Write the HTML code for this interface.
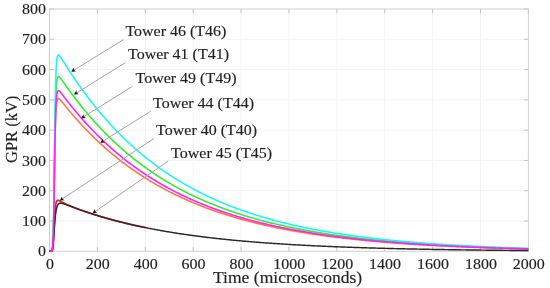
<!DOCTYPE html>
<html><head><meta charset="utf-8"><style>
html,body{margin:0;padding:0;background:#fff;}
svg{display:block;filter:blur(0.3px);}
text{font-family:"Liberation Serif","Times New Roman",serif;fill:#222;stroke:#222;stroke-width:0.15px;}
</style></head><body>
<svg width="550" height="288" viewBox="0 0 550 288">
<rect width="550" height="288" fill="#fff"/>
<g stroke="#f3f3f3" stroke-width="1" fill="none"><line x1="97.39" y1="9.0" x2="97.39" y2="251.3"/><line x1="145.28" y1="9.0" x2="145.28" y2="251.3"/><line x1="193.17" y1="9.0" x2="193.17" y2="251.3"/><line x1="241.06" y1="9.0" x2="241.06" y2="251.3"/><line x1="288.95" y1="9.0" x2="288.95" y2="251.3"/><line x1="336.84" y1="9.0" x2="336.84" y2="251.3"/><line x1="384.73" y1="9.0" x2="384.73" y2="251.3"/><line x1="432.62" y1="9.0" x2="432.62" y2="251.3"/><line x1="480.51" y1="9.0" x2="480.51" y2="251.3"/><line x1="49.5" y1="221.01" x2="528.4" y2="221.01"/><line x1="49.5" y1="190.73" x2="528.4" y2="190.73"/><line x1="49.5" y1="160.44" x2="528.4" y2="160.44"/><line x1="49.5" y1="130.15" x2="528.4" y2="130.15"/><line x1="49.5" y1="99.86" x2="528.4" y2="99.86"/><line x1="49.5" y1="69.58" x2="528.4" y2="69.58"/><line x1="49.5" y1="39.29" x2="528.4" y2="39.29"/></g>
<g stroke="#c4c4c4" stroke-width="1" fill="none"><line x1="49.50" y1="251.3" x2="49.50" y2="246.8"/><line x1="49.50" y1="9.0" x2="49.50" y2="13.5"/><line x1="97.39" y1="251.3" x2="97.39" y2="246.8"/><line x1="97.39" y1="9.0" x2="97.39" y2="13.5"/><line x1="145.28" y1="251.3" x2="145.28" y2="246.8"/><line x1="145.28" y1="9.0" x2="145.28" y2="13.5"/><line x1="193.17" y1="251.3" x2="193.17" y2="246.8"/><line x1="193.17" y1="9.0" x2="193.17" y2="13.5"/><line x1="241.06" y1="251.3" x2="241.06" y2="246.8"/><line x1="241.06" y1="9.0" x2="241.06" y2="13.5"/><line x1="288.95" y1="251.3" x2="288.95" y2="246.8"/><line x1="288.95" y1="9.0" x2="288.95" y2="13.5"/><line x1="336.84" y1="251.3" x2="336.84" y2="246.8"/><line x1="336.84" y1="9.0" x2="336.84" y2="13.5"/><line x1="384.73" y1="251.3" x2="384.73" y2="246.8"/><line x1="384.73" y1="9.0" x2="384.73" y2="13.5"/><line x1="432.62" y1="251.3" x2="432.62" y2="246.8"/><line x1="432.62" y1="9.0" x2="432.62" y2="13.5"/><line x1="480.51" y1="251.3" x2="480.51" y2="246.8"/><line x1="480.51" y1="9.0" x2="480.51" y2="13.5"/><line x1="528.40" y1="251.3" x2="528.40" y2="246.8"/><line x1="528.40" y1="9.0" x2="528.40" y2="13.5"/><line x1="49.5" y1="251.30" x2="54.0" y2="251.30"/><line x1="528.4" y1="251.30" x2="523.9" y2="251.30"/><line x1="49.5" y1="221.01" x2="54.0" y2="221.01"/><line x1="528.4" y1="221.01" x2="523.9" y2="221.01"/><line x1="49.5" y1="190.73" x2="54.0" y2="190.73"/><line x1="528.4" y1="190.73" x2="523.9" y2="190.73"/><line x1="49.5" y1="160.44" x2="54.0" y2="160.44"/><line x1="528.4" y1="160.44" x2="523.9" y2="160.44"/><line x1="49.5" y1="130.15" x2="54.0" y2="130.15"/><line x1="528.4" y1="130.15" x2="523.9" y2="130.15"/><line x1="49.5" y1="99.86" x2="54.0" y2="99.86"/><line x1="528.4" y1="99.86" x2="523.9" y2="99.86"/><line x1="49.5" y1="69.58" x2="54.0" y2="69.58"/><line x1="528.4" y1="69.58" x2="523.9" y2="69.58"/><line x1="49.5" y1="39.29" x2="54.0" y2="39.29"/><line x1="528.4" y1="39.29" x2="523.9" y2="39.29"/><line x1="49.5" y1="9.00" x2="54.0" y2="9.00"/><line x1="528.4" y1="9.00" x2="523.9" y2="9.00"/></g>
<rect x="49.5" y="9.0" width="478.90" height="242.30" fill="none" stroke="#d0d0d0" stroke-width="1"/>
<g fill="none" stroke-width="1.6" stroke-linejoin="round"><polyline points="49.50,251.30 49.62,251.30 49.74,251.30 49.86,251.30 49.98,251.30 50.10,251.30 50.22,251.30 50.34,251.30 50.46,251.30 50.58,251.30 50.70,251.30 50.82,251.30 50.94,251.29 51.06,251.29 51.18,251.27 51.30,251.26 51.42,251.23 51.54,251.18 51.66,251.11 51.77,251.01 51.89,250.87 52.01,250.67 52.13,250.38 52.25,249.99 52.37,249.47 52.49,248.78 52.61,247.88 52.73,246.71 52.85,245.22 52.97,243.35 53.09,241.05 53.21,238.23 53.33,234.86 53.45,230.87 53.57,226.25 53.69,220.97 53.81,215.07 53.93,208.60 54.05,201.64 54.17,194.32 54.29,186.75 54.41,179.10 54.53,171.51 54.65,164.11 54.77,157.02 54.89,150.34 55.01,144.13 55.13,138.43 55.25,133.25 55.37,128.60 55.49,124.46 55.61,120.79 55.73,117.56 55.85,114.74 55.97,112.28 56.08,110.15 56.20,108.30 56.32,106.71 56.44,105.34 56.56,104.17 56.68,103.17 56.80,102.32 56.92,101.59 57.04,100.98 57.16,100.46 57.28,100.03 57.40,99.67 57.52,99.37 57.64,99.13 57.76,98.94 57.88,98.79 58.00,98.68 58.12,98.59 58.24,98.54 58.36,98.51 58.48,98.50 58.60,98.51 58.72,98.53 58.84,98.57 58.96,98.63 59.08,98.69 59.20,98.77 59.32,98.85 59.44,98.94 59.56,99.03 59.68,99.14 59.80,99.24 59.92,99.36 60.04,99.47 60.16,99.59 60.28,99.72 60.39,99.84 60.51,99.97 60.63,100.10 60.75,100.24 60.87,100.37 60.99,100.51 61.11,100.65 61.23,100.79 61.35,100.93 61.47,101.07 61.59,101.22 61.71,101.36 61.83,101.50 61.95,101.65 62.07,101.79 62.19,101.94 62.31,102.09 62.43,102.23 62.55,102.38 62.67,102.53 62.79,102.68 62.91,102.82 63.03,102.97 63.15,103.12 63.27,103.27 63.39,103.42 63.51,103.57 63.63,103.72 63.75,103.86 63.87,104.01 63.99,104.16 64.11,104.31 64.23,104.46 64.35,104.61 64.47,104.76 64.59,104.91 64.71,105.05 64.82,105.20 64.94,105.35 65.06,105.50 65.18,105.65 65.30,105.80 65.42,105.94 65.54,106.09 65.66,106.24 65.78,106.39 65.90,106.54 66.02,106.68 66.14,106.83 66.26,106.98 66.38,107.13 66.50,107.27 66.62,107.42 66.74,107.57 66.86,107.72 66.98,107.86 67.10,108.01 67.22,108.16 67.34,108.30 67.46,108.45 67.58,108.59 67.70,108.74 67.82,108.89 67.94,109.03 68.06,109.18 68.18,109.32 68.30,109.47 68.42,109.61 68.54,109.76 68.66,109.90 68.78,110.05 68.90,110.19 69.02,110.34 69.13,110.48 69.25,110.63 69.37,110.77 69.49,110.91 69.61,111.06 69.73,111.20 69.85,111.35 69.97,111.49 70.09,111.63 70.21,111.78 70.33,111.92 70.45,112.06 70.57,112.20 70.69,112.35 70.81,112.49 70.93,112.63 71.05,112.77 71.17,112.91 71.29,113.06 71.41,113.20 71.53,113.34 71.65,113.48 71.77,113.62 71.89,113.76 72.01,113.90 72.13,114.05 72.25,114.19 72.37,114.33 72.49,114.47 72.61,114.61 72.73,114.75 72.85,114.89 72.97,115.03 73.09,115.17 73.21,115.31 73.33,115.45 73.44,115.59 74.40,116.69 75.36,117.79 76.32,118.88 77.28,119.97 78.23,121.04 79.19,122.10 80.15,123.16 81.11,124.21 82.07,125.25 83.02,126.28 83.98,127.30 84.94,128.31 85.90,129.32 86.85,130.31 87.81,131.30 88.77,132.28 89.73,133.26 90.69,134.22 91.64,135.18 92.60,136.13 93.56,137.07 94.52,138.00 95.47,138.93 96.43,139.85 97.39,140.76 98.35,141.66 99.31,142.56 100.26,143.45 101.22,144.33 102.18,145.21 103.14,146.07 104.09,146.93 105.05,147.79 106.01,148.63 106.97,149.47 107.93,150.31 108.88,151.13 109.84,151.95 110.80,152.76 111.76,153.57 112.71,154.37 113.67,155.16 114.63,155.95 115.59,156.73 116.55,157.50 117.50,158.27 118.46,159.03 119.42,159.78 120.38,160.53 121.33,161.28 122.29,162.01 123.25,162.74 124.21,163.47 125.17,164.19 126.12,164.90 127.08,165.61 128.04,166.31 129.00,167.00 129.96,167.69 130.91,168.38 131.87,169.06 132.83,169.73 133.79,170.40 134.74,171.06 135.70,171.71 136.66,172.37 137.62,173.01 138.58,173.65 139.53,174.29 140.49,174.92 141.45,175.54 142.41,176.16 143.36,176.78 144.32,177.39 145.28,178.00 146.24,178.60 147.20,179.19 148.15,179.78 149.11,180.37 150.07,180.95 151.03,181.52 151.98,182.10 152.94,182.66 153.90,183.22 154.86,183.78 155.82,184.33 156.77,184.88 157.73,185.43 158.69,185.97 159.65,186.50 160.60,187.03 161.56,187.56 162.52,188.08 163.48,188.60 164.44,189.11 165.39,189.62 166.35,190.13 167.31,190.63 168.27,191.13 169.22,191.62 170.18,192.11 171.14,192.60 172.10,193.08 173.06,193.55 174.01,194.03 174.97,194.50 175.93,194.96 176.89,195.42 177.85,195.88 178.80,196.34 179.76,196.79 180.72,197.24 181.68,197.68 182.63,198.12 183.59,198.55 184.55,198.99 185.51,199.42 186.47,199.84 187.42,200.26 188.38,200.68 189.34,201.10 190.30,201.51 191.25,201.92 192.21,202.32 193.17,202.73 194.13,203.13 195.09,203.52 196.04,203.91 197.00,204.30 197.96,204.69 198.92,205.07 199.87,205.45 200.83,205.83 201.79,206.20 202.75,206.57 203.71,206.94 204.66,207.30 205.62,207.66 206.58,208.02 207.54,208.38 208.49,208.73 209.45,209.08 210.41,209.43 211.37,209.77 212.33,210.11 213.28,210.45 214.24,210.79 215.20,211.12 216.16,211.45 217.12,211.78 218.07,212.10 219.03,212.43 219.99,212.75 220.95,213.06 221.90,213.38 222.86,213.69 223.82,214.00 224.78,214.31 225.74,214.61 226.69,214.91 227.65,215.21 228.61,215.51 229.57,215.80 230.52,216.10 231.48,216.39 232.44,216.67 233.40,216.96 234.36,217.24 235.31,217.52 236.27,217.80 237.23,218.08 238.19,218.35 239.14,218.62 240.10,218.89 241.06,219.16 242.02,219.42 242.98,219.69 243.93,219.95 244.89,220.21 245.85,220.46 246.81,220.72 247.76,220.97 248.72,221.22 249.68,221.47 250.64,221.71 251.60,221.96 252.55,222.20 253.51,222.44 254.47,222.68 255.43,222.92 256.38,223.15 257.34,223.38 258.30,223.61 259.26,223.84 260.22,224.07 261.17,224.29 262.13,224.52 263.09,224.74 264.05,224.96 265.00,225.18 265.96,225.39 266.92,225.61 267.88,225.82 268.84,226.03 269.79,226.24 270.75,226.45 271.71,226.65 272.67,226.86 273.63,227.06 274.58,227.26 275.54,227.46 276.50,227.66 277.46,227.85 278.41,228.05 279.37,228.24 280.33,228.43 281.29,228.62 282.25,228.81 283.20,229.00 284.16,229.18 285.12,229.36 286.08,229.55 287.03,229.73 287.99,229.91 288.95,230.08 289.91,230.26 290.87,230.43 291.82,230.61 292.78,230.78 293.74,230.95 294.70,231.12 295.65,231.29 296.61,231.45 297.57,231.62 298.53,231.78 299.49,231.95 300.44,232.11 301.40,232.27 302.36,232.42 303.32,232.58 304.27,232.74 305.23,232.89 306.19,233.05 307.15,233.20 308.11,233.35 309.06,233.50 310.02,233.65 310.98,233.79 311.94,233.94 312.89,234.09 313.85,234.23 314.81,234.37 315.77,234.51 316.73,234.65 317.68,234.79 318.64,234.93 319.60,235.07 320.56,235.20 321.52,235.34 322.47,235.47 323.43,235.60 324.39,235.74 325.35,235.87 326.30,236.00 327.26,236.12 328.22,236.25 329.18,236.38 330.14,236.50 331.09,236.63 332.05,236.75 333.01,236.87 333.97,236.99 334.92,237.11 335.88,237.23 336.84,237.35 337.80,237.47 338.76,237.59 339.71,237.70 340.67,237.82 341.63,237.93 342.59,238.04 343.54,238.15 344.50,238.26 345.46,238.37 346.42,238.48 347.38,238.59 348.33,238.70 349.29,238.80 350.25,238.91 351.21,239.01 352.16,239.12 353.12,239.22 354.08,239.32 355.04,239.43 356.00,239.53 356.95,239.63 357.91,239.72 358.87,239.82 359.83,239.92 360.79,240.02 361.74,240.11 362.70,240.21 363.66,240.30 364.62,240.39 365.57,240.49 366.53,240.58 367.49,240.67 368.45,240.76 369.41,240.85 370.36,240.94 371.32,241.03 372.28,241.12 373.24,241.20 374.19,241.29 375.15,241.37 376.11,241.46 377.07,241.54 378.03,241.63 378.98,241.71 379.94,241.79 380.90,241.87 381.86,241.95 382.81,242.03 383.77,242.11 384.73,242.19 385.69,242.27 386.65,242.35 387.60,242.43 388.56,242.50 389.52,242.58 390.48,242.65 391.43,242.73 392.39,242.80 393.35,242.87 394.31,242.95 395.27,243.02 396.22,243.09 397.18,243.16 398.14,243.23 399.10,243.30 400.05,243.37 401.01,243.44 401.97,243.51 402.93,243.58 403.89,243.64 404.84,243.71 405.80,243.77 406.76,243.84 407.72,243.91 408.68,243.97 409.63,244.03 410.59,244.10 411.55,244.16 412.51,244.22 413.46,244.28 414.42,244.35 415.38,244.41 416.34,244.47 417.30,244.53 418.25,244.59 419.21,244.65 420.17,244.70 421.13,244.76 422.08,244.82 423.04,244.88 424.00,244.93 424.96,244.99 425.92,245.04 426.87,245.10 427.83,245.15 428.79,245.21 429.75,245.26 430.70,245.32 431.66,245.37 432.62,245.42 433.58,245.47 434.54,245.53 435.49,245.58 436.45,245.63 437.41,245.68 438.37,245.73 439.32,245.78 440.28,245.83 441.24,245.88 442.20,245.93 443.16,245.97 444.11,246.02 445.07,246.07 446.03,246.12 446.99,246.16 447.94,246.21 448.90,246.26 449.86,246.30 450.82,246.35 451.78,246.39 452.73,246.44 453.69,246.48 454.65,246.52 455.61,246.57 456.56,246.61 457.52,246.65 458.48,246.70 459.44,246.74 460.40,246.78 461.35,246.82 462.31,246.86 463.27,246.90 464.23,246.94 465.19,246.98 466.14,247.02 467.10,247.06 468.06,247.10 469.02,247.14 469.97,247.18 470.93,247.22 471.89,247.26 472.85,247.29 473.81,247.33 474.76,247.37 475.72,247.40 476.68,247.44 477.64,247.48 478.59,247.51 479.55,247.55 480.51,247.58 481.47,247.62 482.43,247.65 483.38,247.69 484.34,247.72 485.30,247.76 486.26,247.79 487.21,247.82 488.17,247.86 489.13,247.89 490.09,247.92 491.05,247.95 492.00,247.99 492.96,248.02 493.92,248.05 494.88,248.08 495.83,248.11 496.79,248.14 497.75,248.17 498.71,248.20 499.67,248.23 500.62,248.26 501.58,248.29 502.54,248.32 503.50,248.35 504.45,248.38 505.41,248.41 506.37,248.44 507.33,248.47 508.29,248.49 509.24,248.52 510.20,248.55 511.16,248.58 512.12,248.60 513.08,248.63 514.03,248.66 514.99,248.68 515.95,248.71 516.91,248.74 517.86,248.76 518.82,248.79 519.78,248.81 520.74,248.84 521.70,248.86 522.65,248.89 523.61,248.91 524.57,248.94 525.53,248.96 526.48,248.99 527.44,249.01 528.40,249.03" stroke="#ff7744"/><polyline points="49.50,251.30 49.62,251.30 49.74,251.30 49.86,251.30 49.98,251.30 50.10,251.30 50.22,251.30 50.34,251.30 50.46,251.30 50.58,251.30 50.70,251.30 50.82,251.30 50.94,251.29 51.06,251.28 51.18,251.27 51.30,251.25 51.42,251.22 51.54,251.17 51.66,251.09 51.77,250.97 51.89,250.81 52.01,250.57 52.13,250.25 52.25,249.81 52.37,249.21 52.49,248.42 52.61,247.38 52.73,246.05 52.85,244.35 52.97,242.21 53.09,239.57 53.21,236.36 53.33,232.50 53.45,227.94 53.57,222.64 53.69,216.61 53.81,209.87 53.93,202.46 54.05,194.51 54.17,186.13 54.29,177.48 54.41,168.72 54.53,160.04 54.65,151.58 54.77,143.47 54.89,135.83 55.01,128.73 55.13,122.21 55.25,116.29 55.37,110.97 55.49,106.23 55.61,102.03 55.73,98.34 55.85,95.11 55.97,92.30 56.08,89.86 56.20,87.75 56.32,85.93 56.44,84.37 56.56,83.03 56.68,81.88 56.80,80.91 56.92,80.08 57.04,79.37 57.16,78.78 57.28,78.29 57.40,77.88 57.52,77.54 57.64,77.27 57.76,77.05 57.88,76.87 58.00,76.74 58.12,76.65 58.24,76.59 58.36,76.55 58.48,76.54 58.60,76.55 58.72,76.58 58.84,76.63 58.96,76.69 59.08,76.76 59.20,76.84 59.32,76.94 59.44,77.04 59.56,77.15 59.68,77.27 59.80,77.39 59.92,77.52 60.04,77.66 60.16,77.79 60.28,77.93 60.39,78.08 60.51,78.23 60.63,78.38 60.75,78.53 60.87,78.68 60.99,78.84 61.11,79.00 61.23,79.16 61.35,79.32 61.47,79.48 61.59,79.65 61.71,79.81 61.83,79.98 61.95,80.14 62.07,80.31 62.19,80.48 62.31,80.64 62.43,80.81 62.55,80.98 62.67,81.15 62.79,81.32 62.91,81.49 63.03,81.66 63.15,81.83 63.27,82.00 63.39,82.17 63.51,82.34 63.63,82.51 63.75,82.68 63.87,82.85 63.99,83.02 64.11,83.19 64.23,83.36 64.35,83.53 64.47,83.70 64.59,83.87 64.71,84.04 64.82,84.21 64.94,84.38 65.06,84.55 65.18,84.72 65.30,84.89 65.42,85.06 65.54,85.23 65.66,85.40 65.78,85.56 65.90,85.73 66.02,85.90 66.14,86.07 66.26,86.24 66.38,86.41 66.50,86.58 66.62,86.75 66.74,86.91 66.86,87.08 66.98,87.25 67.10,87.42 67.22,87.59 67.34,87.75 67.46,87.92 67.58,88.09 67.70,88.25 67.82,88.42 67.94,88.59 68.06,88.75 68.18,88.92 68.30,89.09 68.42,89.25 68.54,89.42 68.66,89.58 68.78,89.75 68.90,89.92 69.02,90.08 69.13,90.25 69.25,90.41 69.37,90.58 69.49,90.74 69.61,90.90 69.73,91.07 69.85,91.23 69.97,91.40 70.09,91.56 70.21,91.72 70.33,91.89 70.45,92.05 70.57,92.21 70.69,92.38 70.81,92.54 70.93,92.70 71.05,92.87 71.17,93.03 71.29,93.19 71.41,93.35 71.53,93.51 71.65,93.68 71.77,93.84 71.89,94.00 72.01,94.16 72.13,94.32 72.25,94.48 72.37,94.64 72.49,94.80 72.61,94.96 72.73,95.12 72.85,95.28 72.97,95.44 73.09,95.60 73.21,95.76 73.33,95.92 73.44,96.08 74.40,97.35 75.36,98.61 76.32,99.86 77.28,101.09 78.23,102.32 79.19,103.54 80.15,104.75 81.11,105.94 82.07,107.13 83.02,108.31 83.98,109.48 84.94,110.64 85.90,111.79 86.85,112.93 87.81,114.06 88.77,115.18 89.73,116.29 90.69,117.40 91.64,118.49 92.60,119.58 93.56,120.65 94.52,121.72 95.47,122.78 96.43,123.83 97.39,124.87 98.35,125.91 99.31,126.93 100.26,127.95 101.22,128.96 102.18,129.96 103.14,130.95 104.09,131.94 105.05,132.91 106.01,133.88 106.97,134.84 107.93,135.79 108.88,136.74 109.84,137.67 110.80,138.60 111.76,139.53 112.71,140.44 113.67,141.35 114.63,142.25 115.59,143.14 116.55,144.02 117.50,144.90 118.46,145.77 119.42,146.63 120.38,147.49 121.33,148.34 122.29,149.18 123.25,150.02 124.21,150.85 125.17,151.67 126.12,152.48 127.08,153.29 128.04,154.09 129.00,154.89 129.96,155.68 130.91,156.46 131.87,157.24 132.83,158.01 133.79,158.77 134.74,159.53 135.70,160.28 136.66,161.02 137.62,161.76 138.58,162.49 139.53,163.22 140.49,163.94 141.45,164.66 142.41,165.37 143.36,166.07 144.32,166.77 145.28,167.46 146.24,168.15 147.20,168.83 148.15,169.50 149.11,170.17 150.07,170.84 151.03,171.50 151.98,172.15 152.94,172.80 153.90,173.44 154.86,174.08 155.82,174.71 156.77,175.34 157.73,175.96 158.69,176.58 159.65,177.19 160.60,177.80 161.56,178.40 162.52,179.00 163.48,179.59 164.44,180.18 165.39,180.76 166.35,181.34 167.31,181.91 168.27,182.48 169.22,183.04 170.18,183.60 171.14,184.16 172.10,184.71 173.06,185.26 174.01,185.80 174.97,186.33 175.93,186.87 176.89,187.40 177.85,187.92 178.80,188.44 179.76,188.95 180.72,189.47 181.68,189.97 182.63,190.48 183.59,190.98 184.55,191.47 185.51,191.96 186.47,192.45 187.42,192.93 188.38,193.41 189.34,193.88 190.30,194.36 191.25,194.82 192.21,195.29 193.17,195.75 194.13,196.20 195.09,196.65 196.04,197.10 197.00,197.55 197.96,197.99 198.92,198.43 199.87,198.86 200.83,199.29 201.79,199.72 202.75,200.14 203.71,200.56 204.66,200.98 205.62,201.39 206.58,201.80 207.54,202.21 208.49,202.61 209.45,203.01 210.41,203.41 211.37,203.80 212.33,204.20 213.28,204.58 214.24,204.97 215.20,205.35 216.16,205.73 217.12,206.10 218.07,206.47 219.03,206.84 219.99,207.21 220.95,207.57 221.90,207.93 222.86,208.29 223.82,208.64 224.78,208.99 225.74,209.34 226.69,209.68 227.65,210.03 228.61,210.37 229.57,210.70 230.52,211.04 231.48,211.37 232.44,211.70 233.40,212.02 234.36,212.35 235.31,212.67 236.27,212.99 237.23,213.30 238.19,213.62 239.14,213.93 240.10,214.24 241.06,214.54 242.02,214.84 242.98,215.14 243.93,215.44 244.89,215.74 245.85,216.03 246.81,216.32 247.76,216.61 248.72,216.90 249.68,217.18 250.64,217.46 251.60,217.74 252.55,218.02 253.51,218.29 254.47,218.57 255.43,218.84 256.38,219.11 257.34,219.37 258.30,219.64 259.26,219.90 260.22,220.16 261.17,220.41 262.13,220.67 263.09,220.92 264.05,221.17 265.00,221.42 265.96,221.67 266.92,221.91 267.88,222.16 268.84,222.40 269.79,222.64 270.75,222.88 271.71,223.11 272.67,223.34 273.63,223.58 274.58,223.81 275.54,224.03 276.50,224.26 277.46,224.48 278.41,224.71 279.37,224.93 280.33,225.14 281.29,225.36 282.25,225.58 283.20,225.79 284.16,226.00 285.12,226.21 286.08,226.42 287.03,226.63 287.99,226.83 288.95,227.03 289.91,227.24 290.87,227.44 291.82,227.63 292.78,227.83 293.74,228.03 294.70,228.22 295.65,228.41 296.61,228.60 297.57,228.79 298.53,228.98 299.49,229.16 300.44,229.35 301.40,229.53 302.36,229.71 303.32,229.89 304.27,230.07 305.23,230.25 306.19,230.42 307.15,230.60 308.11,230.77 309.06,230.94 310.02,231.11 310.98,231.28 311.94,231.45 312.89,231.61 313.85,231.78 314.81,231.94 315.77,232.10 316.73,232.26 317.68,232.42 318.64,232.58 319.60,232.74 320.56,232.89 321.52,233.05 322.47,233.20 323.43,233.35 324.39,233.50 325.35,233.65 326.30,233.80 327.26,233.94 328.22,234.09 329.18,234.23 330.14,234.38 331.09,234.52 332.05,234.66 333.01,234.80 333.97,234.94 334.92,235.08 335.88,235.21 336.84,235.35 337.80,235.48 338.76,235.61 339.71,235.75 340.67,235.88 341.63,236.01 342.59,236.14 343.54,236.26 344.50,236.39 345.46,236.52 346.42,236.64 347.38,236.76 348.33,236.89 349.29,237.01 350.25,237.13 351.21,237.25 352.16,237.37 353.12,237.49 354.08,237.60 355.04,237.72 356.00,237.83 356.95,237.95 357.91,238.06 358.87,238.17 359.83,238.28 360.79,238.39 361.74,238.50 362.70,238.61 363.66,238.72 364.62,238.83 365.57,238.93 366.53,239.04 367.49,239.14 368.45,239.25 369.41,239.35 370.36,239.45 371.32,239.55 372.28,239.65 373.24,239.75 374.19,239.85 375.15,239.95 376.11,240.05 377.07,240.14 378.03,240.24 378.98,240.33 379.94,240.43 380.90,240.52 381.86,240.61 382.81,240.70 383.77,240.79 384.73,240.88 385.69,240.97 386.65,241.06 387.60,241.15 388.56,241.24 389.52,241.32 390.48,241.41 391.43,241.49 392.39,241.58 393.35,241.66 394.31,241.75 395.27,241.83 396.22,241.91 397.18,241.99 398.14,242.07 399.10,242.15 400.05,242.23 401.01,242.31 401.97,242.39 402.93,242.47 403.89,242.54 404.84,242.62 405.80,242.69 406.76,242.77 407.72,242.84 408.68,242.92 409.63,242.99 410.59,243.06 411.55,243.13 412.51,243.21 413.46,243.28 414.42,243.35 415.38,243.42 416.34,243.48 417.30,243.55 418.25,243.62 419.21,243.69 420.17,243.76 421.13,243.82 422.08,243.89 423.04,243.95 424.00,244.02 424.96,244.08 425.92,244.15 426.87,244.21 427.83,244.27 428.79,244.33 429.75,244.40 430.70,244.46 431.66,244.52 432.62,244.58 433.58,244.64 434.54,244.70 435.49,244.76 436.45,244.81 437.41,244.87 438.37,244.93 439.32,244.99 440.28,245.04 441.24,245.10 442.20,245.15 443.16,245.21 444.11,245.26 445.07,245.32 446.03,245.37 446.99,245.43 447.94,245.48 448.90,245.53 449.86,245.58 450.82,245.63 451.78,245.69 452.73,245.74 453.69,245.79 454.65,245.84 455.61,245.89 456.56,245.94 457.52,245.99 458.48,246.03 459.44,246.08 460.40,246.13 461.35,246.18 462.31,246.22 463.27,246.27 464.23,246.32 465.19,246.36 466.14,246.41 467.10,246.45 468.06,246.50 469.02,246.54 469.97,246.59 470.93,246.63 471.89,246.67 472.85,246.72 473.81,246.76 474.76,246.80 475.72,246.84 476.68,246.89 477.64,246.93 478.59,246.97 479.55,247.01 480.51,247.05 481.47,247.09 482.43,247.13 483.38,247.17 484.34,247.21 485.30,247.25 486.26,247.28 487.21,247.32 488.17,247.36 489.13,247.40 490.09,247.44 491.05,247.47 492.00,247.51 492.96,247.55 493.92,247.58 494.88,247.62 495.83,247.65 496.79,247.69 497.75,247.72 498.71,247.76 499.67,247.79 500.62,247.83 501.58,247.86 502.54,247.89 503.50,247.93 504.45,247.96 505.41,247.99 506.37,248.03 507.33,248.06 508.29,248.09 509.24,248.12 510.20,248.15 511.16,248.19 512.12,248.22 513.08,248.25 514.03,248.28 514.99,248.31 515.95,248.34 516.91,248.37 517.86,248.40 518.82,248.43 519.78,248.46 520.74,248.48 521.70,248.51 522.65,248.54 523.61,248.57 524.57,248.60 525.53,248.63 526.48,248.65 527.44,248.68 528.40,248.71" stroke="#33ee33"/><polyline points="49.50,251.30 49.62,251.30 49.74,251.30 49.86,251.30 49.98,251.30 50.10,251.30 50.22,251.30 50.34,251.30 50.46,251.30 50.58,251.30 50.70,251.30 50.82,251.30 50.94,251.29 51.06,251.28 51.18,251.27 51.30,251.24 51.42,251.21 51.54,251.15 51.66,251.06 51.77,250.93 51.89,250.75 52.01,250.49 52.13,250.12 52.25,249.62 52.37,248.95 52.49,248.06 52.61,246.90 52.73,245.40 52.85,243.49 52.97,241.09 53.09,238.13 53.21,234.52 53.33,230.18 53.45,225.06 53.57,219.12 53.69,212.34 53.81,204.77 53.93,196.45 54.05,187.52 54.17,178.11 54.29,168.39 54.41,158.56 54.53,148.81 54.65,139.31 54.77,130.20 54.89,121.62 55.01,113.64 55.13,106.32 55.25,99.68 55.37,93.70 55.49,88.38 55.61,83.67 55.73,79.52 55.85,75.90 55.97,72.74 56.08,70.00 56.20,67.63 56.32,65.58 56.44,63.83 56.56,62.32 56.68,61.04 56.80,59.94 56.92,59.01 57.04,58.22 57.16,57.56 57.28,57.00 57.40,56.54 57.52,56.16 57.64,55.85 57.76,55.60 57.88,55.41 58.00,55.26 58.12,55.16 58.24,55.09 58.36,55.05 58.48,55.04 58.60,55.05 58.72,55.08 58.84,55.13 58.96,55.20 59.08,55.28 59.20,55.38 59.32,55.48 59.44,55.60 59.56,55.72 59.68,55.85 59.80,55.99 59.92,56.14 60.04,56.29 60.16,56.44 60.28,56.60 60.39,56.76 60.51,56.93 60.63,57.10 60.75,57.27 60.87,57.44 60.99,57.62 61.11,57.80 61.23,57.98 61.35,58.16 61.47,58.34 61.59,58.52 61.71,58.71 61.83,58.89 61.95,59.08 62.07,59.27 62.19,59.46 62.31,59.64 62.43,59.83 62.55,60.02 62.67,60.21 62.79,60.40 62.91,60.59 63.03,60.78 63.15,60.97 63.27,61.16 63.39,61.35 63.51,61.54 63.63,61.74 63.75,61.93 63.87,62.12 63.99,62.31 64.11,62.50 64.23,62.69 64.35,62.88 64.47,63.07 64.59,63.27 64.71,63.46 64.82,63.65 64.94,63.84 65.06,64.03 65.18,64.22 65.30,64.41 65.42,64.60 65.54,64.79 65.66,64.98 65.78,65.17 65.90,65.36 66.02,65.55 66.14,65.74 66.26,65.93 66.38,66.12 66.50,66.31 66.62,66.50 66.74,66.69 66.86,66.87 66.98,67.06 67.10,67.25 67.22,67.44 67.34,67.63 67.46,67.82 67.58,68.00 67.70,68.19 67.82,68.38 67.94,68.57 68.06,68.75 68.18,68.94 68.30,69.13 68.42,69.31 68.54,69.50 68.66,69.69 68.78,69.87 68.90,70.06 69.02,70.24 69.13,70.43 69.25,70.61 69.37,70.80 69.49,70.98 69.61,71.17 69.73,71.35 69.85,71.54 69.97,71.72 70.09,71.91 70.21,72.09 70.33,72.27 70.45,72.46 70.57,72.64 70.69,72.82 70.81,73.01 70.93,73.19 71.05,73.37 71.17,73.55 71.29,73.73 71.41,73.92 71.53,74.10 71.65,74.28 71.77,74.46 71.89,74.64 72.01,74.82 72.13,75.00 72.25,75.19 72.37,75.37 72.49,75.55 72.61,75.73 72.73,75.91 72.85,76.09 72.97,76.27 73.09,76.45 73.21,76.62 73.33,76.80 73.44,76.98 74.40,78.41 75.36,79.82 76.32,81.22 77.28,82.61 78.23,83.99 79.19,85.36 80.15,86.71 81.11,88.06 82.07,89.39 83.02,90.72 83.98,92.03 84.94,93.33 85.90,94.62 86.85,95.90 87.81,97.17 88.77,98.43 89.73,99.68 90.69,100.92 91.64,102.15 92.60,103.37 93.56,104.58 94.52,105.78 95.47,106.97 96.43,108.15 97.39,109.32 98.35,110.48 99.31,111.63 100.26,112.77 101.22,113.91 102.18,115.03 103.14,116.14 104.09,117.25 105.05,118.34 106.01,119.43 106.97,120.51 107.93,121.58 108.88,122.64 109.84,123.69 110.80,124.74 111.76,125.77 112.71,126.80 113.67,127.82 114.63,128.83 115.59,129.83 116.55,130.82 117.50,131.81 118.46,132.78 119.42,133.75 120.38,134.72 121.33,135.67 122.29,136.62 123.25,137.55 124.21,138.48 125.17,139.41 126.12,140.32 127.08,141.23 128.04,142.13 129.00,143.03 129.96,143.91 130.91,144.79 131.87,145.66 132.83,146.53 133.79,147.38 134.74,148.23 135.70,149.08 136.66,149.91 137.62,150.74 138.58,151.57 139.53,152.38 140.49,153.19 141.45,154.00 142.41,154.79 143.36,155.58 144.32,156.37 145.28,157.14 146.24,157.92 147.20,158.68 148.15,159.44 149.11,160.19 150.07,160.94 151.03,161.68 151.98,162.41 152.94,163.14 153.90,163.86 154.86,164.58 155.82,165.29 156.77,165.99 157.73,166.69 158.69,167.38 159.65,168.07 160.60,168.75 161.56,169.43 162.52,170.10 163.48,170.77 164.44,171.43 165.39,172.08 166.35,172.73 167.31,173.37 168.27,174.01 169.22,174.65 170.18,175.27 171.14,175.90 172.10,176.52 173.06,177.13 174.01,177.74 174.97,178.34 175.93,178.94 176.89,179.53 177.85,180.12 178.80,180.70 179.76,181.28 180.72,181.86 181.68,182.43 182.63,182.99 183.59,183.55 184.55,184.11 185.51,184.66 186.47,185.21 187.42,185.75 188.38,186.29 189.34,186.82 190.30,187.35 191.25,187.87 192.21,188.39 193.17,188.91 194.13,189.42 195.09,189.93 196.04,190.43 197.00,190.93 197.96,191.43 198.92,191.92 199.87,192.41 200.83,192.89 201.79,193.37 202.75,193.85 203.71,194.32 204.66,194.79 205.62,195.25 206.58,195.71 207.54,196.17 208.49,196.62 209.45,197.07 210.41,197.52 211.37,197.96 212.33,198.40 213.28,198.83 214.24,199.27 215.20,199.69 216.16,200.12 217.12,200.54 218.07,200.96 219.03,201.37 219.99,201.78 220.95,202.19 221.90,202.59 222.86,202.99 223.82,203.39 224.78,203.78 225.74,204.18 226.69,204.56 227.65,204.95 228.61,205.33 229.57,205.71 230.52,206.08 231.48,206.46 232.44,206.83 233.40,207.19 234.36,207.56 235.31,207.92 236.27,208.27 237.23,208.63 238.19,208.98 239.14,209.33 240.10,209.67 241.06,210.02 242.02,210.36 242.98,210.70 243.93,211.03 244.89,211.36 245.85,211.69 246.81,212.02 247.76,212.34 248.72,212.66 249.68,212.98 250.64,213.30 251.60,213.61 252.55,213.92 253.51,214.23 254.47,214.54 255.43,214.84 256.38,215.14 257.34,215.44 258.30,215.74 259.26,216.03 260.22,216.32 261.17,216.61 262.13,216.90 263.09,217.18 264.05,217.47 265.00,217.75 265.96,218.02 266.92,218.30 267.88,218.57 268.84,218.84 269.79,219.11 270.75,219.38 271.71,219.64 272.67,219.90 273.63,220.16 274.58,220.42 275.54,220.68 276.50,220.93 277.46,221.18 278.41,221.43 279.37,221.68 280.33,221.93 281.29,222.17 282.25,222.41 283.20,222.65 284.16,222.89 285.12,223.12 286.08,223.36 287.03,223.59 287.99,223.82 288.95,224.05 289.91,224.28 290.87,224.50 291.82,224.72 292.78,224.94 293.74,225.16 294.70,225.38 295.65,225.60 296.61,225.81 297.57,226.02 298.53,226.23 299.49,226.44 300.44,226.65 301.40,226.85 302.36,227.06 303.32,227.26 304.27,227.46 305.23,227.66 306.19,227.85 307.15,228.05 308.11,228.24 309.06,228.44 310.02,228.63 310.98,228.82 311.94,229.00 312.89,229.19 313.85,229.37 314.81,229.56 315.77,229.74 316.73,229.92 317.68,230.10 318.64,230.28 319.60,230.45 320.56,230.63 321.52,230.80 322.47,230.97 323.43,231.14 324.39,231.31 325.35,231.48 326.30,231.64 327.26,231.81 328.22,231.97 329.18,232.13 330.14,232.29 331.09,232.45 332.05,232.61 333.01,232.77 333.97,232.92 334.92,233.08 335.88,233.23 336.84,233.38 337.80,233.53 338.76,233.68 339.71,233.83 340.67,233.98 341.63,234.13 342.59,234.27 343.54,234.41 344.50,234.56 345.46,234.70 346.42,234.84 347.38,234.98 348.33,235.11 349.29,235.25 350.25,235.39 351.21,235.52 352.16,235.65 353.12,235.79 354.08,235.92 355.04,236.05 356.00,236.18 356.95,236.30 357.91,236.43 358.87,236.56 359.83,236.68 360.79,236.81 361.74,236.93 362.70,237.05 363.66,237.17 364.62,237.29 365.57,237.41 366.53,237.53 367.49,237.65 368.45,237.76 369.41,237.88 370.36,237.99 371.32,238.11 372.28,238.22 373.24,238.33 374.19,238.44 375.15,238.55 376.11,238.66 377.07,238.77 378.03,238.88 378.98,238.98 379.94,239.09 380.90,239.19 381.86,239.30 382.81,239.40 383.77,239.50 384.73,239.60 385.69,239.70 386.65,239.80 387.60,239.90 388.56,240.00 389.52,240.10 390.48,240.19 391.43,240.29 392.39,240.38 393.35,240.48 394.31,240.57 395.27,240.66 396.22,240.76 397.18,240.85 398.14,240.94 399.10,241.03 400.05,241.12 401.01,241.20 401.97,241.29 402.93,241.38 403.89,241.46 404.84,241.55 405.80,241.63 406.76,241.72 407.72,241.80 408.68,241.88 409.63,241.97 410.59,242.05 411.55,242.13 412.51,242.21 413.46,242.29 414.42,242.37 415.38,242.45 416.34,242.52 417.30,242.60 418.25,242.68 419.21,242.75 420.17,242.83 421.13,242.90 422.08,242.98 423.04,243.05 424.00,243.12 424.96,243.19 425.92,243.27 426.87,243.34 427.83,243.41 428.79,243.48 429.75,243.55 430.70,243.61 431.66,243.68 432.62,243.75 433.58,243.82 434.54,243.88 435.49,243.95 436.45,244.02 437.41,244.08 438.37,244.15 439.32,244.21 440.28,244.27 441.24,244.34 442.20,244.40 443.16,244.46 444.11,244.52 445.07,244.58 446.03,244.64 446.99,244.70 447.94,244.76 448.90,244.82 449.86,244.88 450.82,244.94 451.78,245.00 452.73,245.05 453.69,245.11 454.65,245.17 455.61,245.22 456.56,245.28 457.52,245.33 458.48,245.39 459.44,245.44 460.40,245.49 461.35,245.55 462.31,245.60 463.27,245.65 464.23,245.70 465.19,245.76 466.14,245.81 467.10,245.86 468.06,245.91 469.02,245.96 469.97,246.01 470.93,246.06 471.89,246.10 472.85,246.15 473.81,246.20 474.76,246.25 475.72,246.30 476.68,246.34 477.64,246.39 478.59,246.43 479.55,246.48 480.51,246.53 481.47,246.57 482.43,246.62 483.38,246.66 484.34,246.70 485.30,246.75 486.26,246.79 487.21,246.83 488.17,246.88 489.13,246.92 490.09,246.96 491.05,247.00 492.00,247.04 492.96,247.08 493.92,247.12 494.88,247.16 495.83,247.20 496.79,247.24 497.75,247.28 498.71,247.32 499.67,247.36 500.62,247.40 501.58,247.44 502.54,247.47 503.50,247.51 504.45,247.55 505.41,247.59 506.37,247.62 507.33,247.66 508.29,247.70 509.24,247.73 510.20,247.77 511.16,247.80 512.12,247.84 513.08,247.87 514.03,247.91 514.99,247.94 515.95,247.97 516.91,248.01 517.86,248.04 518.82,248.07 519.78,248.11 520.74,248.14 521.70,248.17 522.65,248.20 523.61,248.23 524.57,248.27 525.53,248.30 526.48,248.33 527.44,248.36 528.40,248.39" stroke="#1ef6f2"/><polyline points="49.50,251.30 49.62,251.30 49.74,251.30 49.86,251.30 49.98,251.30 50.10,251.30 50.22,251.30 50.34,251.30 50.46,251.30 50.58,251.30 50.70,251.30 50.82,251.30 50.94,251.30 51.06,251.29 51.18,251.29 51.30,251.28 51.42,251.27 51.54,251.25 51.66,251.22 51.77,251.18 51.89,251.12 52.01,251.03 52.13,250.91 52.25,250.75 52.37,250.53 52.49,250.24 52.61,249.87 52.73,249.38 52.85,248.77 52.97,248.00 53.09,247.07 53.21,245.93 53.33,244.58 53.45,243.00 53.57,241.20 53.69,239.16 53.81,236.93 53.93,234.52 54.05,231.97 54.17,229.34 54.29,226.69 54.41,224.05 54.53,221.49 54.65,219.05 54.77,216.76 54.89,214.64 55.01,212.71 55.13,210.97 55.25,209.41 55.37,208.04 55.49,206.83 55.61,205.78 55.73,204.87 55.85,204.09 55.97,203.42 56.08,202.85 56.20,202.36 56.32,201.95 56.44,201.61 56.56,201.32 56.68,201.08 56.80,200.88 56.92,200.72 57.04,200.59 57.16,200.49 57.28,200.41 57.40,200.35 57.52,200.31 57.64,200.28 57.76,200.26 57.88,200.26 58.00,200.27 58.12,200.28 58.24,200.30 58.36,200.33 58.48,200.37 58.60,200.40 58.72,200.45 58.84,200.49 58.96,200.54 59.08,200.59 59.20,200.64 59.32,200.70 59.44,200.76 59.56,200.81 59.68,200.87 59.80,200.93 59.92,201.00 60.04,201.06 60.16,201.12 60.28,201.18 60.39,201.25 60.51,201.31 60.63,201.37 60.75,201.44 60.87,201.50 60.99,201.57 61.11,201.63 61.23,201.69 61.35,201.76 61.47,201.82 61.59,201.89 61.71,201.95 61.83,202.01 61.95,202.08 62.07,202.14 62.19,202.20 62.31,202.26 62.43,202.33 62.55,202.39 62.67,202.45 62.79,202.51 62.91,202.58 63.03,202.64 63.15,202.70 63.27,202.76 63.39,202.82 63.51,202.88 63.63,202.94 63.75,203.00 63.87,203.06 63.99,203.12 64.11,203.18 64.23,203.24 64.35,203.30 64.47,203.36 64.59,203.42 64.71,203.48 64.82,203.53 64.94,203.59 65.06,203.65 65.18,203.71 65.30,203.76 65.42,203.82 65.54,203.88 65.66,203.93 65.78,203.99 65.90,204.05 66.02,204.10 66.14,204.16 66.26,204.21 66.38,204.27 66.50,204.32 66.62,204.38 66.74,204.43 66.86,204.49 66.98,204.54 67.10,204.60 67.22,204.65 67.34,204.71 67.46,204.76 67.58,204.81 67.70,204.87 67.82,204.92 67.94,204.97 68.06,205.03 68.18,205.08 68.30,205.13 68.42,205.18 68.54,205.24 68.66,205.29 68.78,205.34 68.90,205.39 69.02,205.44 69.13,205.49 69.25,205.55 69.37,205.60 69.49,205.65 69.61,205.70 69.73,205.75 69.85,205.80 69.97,205.85 70.09,205.90 70.21,205.95 70.33,206.00 70.45,206.05 70.57,206.10 70.69,206.15 70.81,206.20 70.93,206.25 71.05,206.30 71.17,206.35 71.29,206.40 71.41,206.45 71.53,206.50 71.65,206.55 71.77,206.60 71.89,206.65 72.01,206.69 72.13,206.74 72.25,206.79 72.37,206.84 72.49,206.89 72.61,206.94 72.73,206.98 72.85,207.03 72.97,207.08 73.09,207.13 73.21,207.17 73.33,207.22 73.44,207.27 74.40,207.65 75.36,208.02 76.32,208.38 77.28,208.74 78.23,209.10 79.19,209.45 80.15,209.80 81.11,210.14 82.07,210.48 83.02,210.82 83.98,211.16 84.94,211.49 85.90,211.81 86.85,212.14 87.81,212.46 88.77,212.78 89.73,213.10 90.69,213.41 91.64,213.72 92.60,214.03 93.56,214.33 94.52,214.64 95.47,214.94 96.43,215.23 97.39,215.53 98.35,215.82 99.31,216.11 100.26,216.40 101.22,216.69 102.18,216.97 103.14,217.25 104.09,217.53 105.05,217.80 106.01,218.08 106.97,218.35 107.93,218.62 108.88,218.89 109.84,219.15 110.80,219.42 111.76,219.68 112.71,219.94 113.67,220.19 114.63,220.45 115.59,220.70 116.55,220.95 117.50,221.20 118.46,221.44 119.42,221.69 120.38,221.93 121.33,222.17 122.29,222.41 123.25,222.64 124.21,222.88 125.17,223.11 126.12,223.34 127.08,223.57 128.04,223.80 129.00,224.02 129.96,224.25 130.91,224.47 131.87,224.69 132.83,224.91 133.79,225.12 134.74,225.34 135.70,225.55 136.66,225.76 137.62,225.97 138.58,226.18 139.53,226.38 140.49,226.58 141.45,226.79 142.41,226.99 143.36,227.19 144.32,227.38 145.28,227.58" stroke="#ff1a1a" stroke-width="1.7"/><polyline points="49.50,251.30 49.62,251.30 49.74,251.30 49.86,251.30 49.98,251.30 50.10,251.30 50.22,251.30 50.34,251.29 50.46,251.29 50.58,251.28 50.70,251.26 50.82,251.23 50.94,251.20 51.06,251.15 51.18,251.08 51.30,250.99 51.42,250.88 51.54,250.73 51.66,250.55 51.77,250.32 51.89,250.04 52.01,249.70 52.13,249.30 52.25,248.83 52.37,248.28 52.49,247.65 52.61,246.93 52.73,246.11 52.85,245.20 52.97,244.20 53.09,243.10 53.21,241.92 53.33,240.64 53.45,239.29 53.57,237.87 53.69,236.39 53.81,234.86 53.93,233.31 54.05,231.73 54.17,230.14 54.29,228.57 54.41,227.01 54.53,225.48 54.65,223.99 54.77,222.55 54.89,221.16 55.01,219.84 55.13,218.57 55.25,217.38 55.37,216.25 55.49,215.19 55.61,214.19 55.73,213.26 55.85,212.40 55.97,211.59 56.08,210.85 56.20,210.16 56.32,209.52 56.44,208.94 56.56,208.40 56.68,207.90 56.80,207.44 56.92,207.03 57.04,206.64 57.16,206.29 57.28,205.97 57.40,205.68 57.52,205.41 57.64,205.17 57.76,204.94 57.88,204.74 58.00,204.56 58.12,204.39 58.24,204.24 58.36,204.11 58.48,203.98 58.60,203.87 58.72,203.78 58.84,203.69 58.96,203.61 59.08,203.54 59.20,203.48 59.32,203.42 59.44,203.38 59.56,203.34 59.68,203.30 59.80,203.27 59.92,203.25 60.04,203.23 60.16,203.22 60.28,203.21 60.39,203.20 60.51,203.20 60.63,203.20 60.75,203.20 60.87,203.20 60.99,203.21 61.11,203.22 61.23,203.24 61.35,203.25 61.47,203.27 61.59,203.29 61.71,203.31 61.83,203.33 61.95,203.36 62.07,203.38 62.19,203.41 62.31,203.44 62.43,203.47 62.55,203.50 62.67,203.53 62.79,203.56 62.91,203.59 63.03,203.63 63.15,203.66 63.27,203.69 63.39,203.73 63.51,203.77 63.63,203.80 63.75,203.84 63.87,203.88 63.99,203.92 64.11,203.96 64.23,204.00 64.35,204.04 64.47,204.08 64.59,204.12 64.71,204.16 64.82,204.20 64.94,204.24 65.06,204.28 65.18,204.32 65.30,204.37 65.42,204.41 65.54,204.45 65.66,204.49 65.78,204.54 65.90,204.58 66.02,204.62 66.14,204.67 66.26,204.71 66.38,204.76 66.50,204.80 66.62,204.84 66.74,204.89 66.86,204.93 66.98,204.98 67.10,205.02 67.22,205.06 67.34,205.11 67.46,205.15 67.58,205.20 67.70,205.24 67.82,205.29 67.94,205.33 68.06,205.38 68.18,205.42 68.30,205.47 68.42,205.51 68.54,205.56 68.66,205.60 68.78,205.65 68.90,205.69 69.02,205.74 69.13,205.78 69.25,205.83 69.37,205.87 69.49,205.92 69.61,205.96 69.73,206.01 69.85,206.05 69.97,206.10 70.09,206.15 70.21,206.19 70.33,206.24 70.45,206.28 70.57,206.33 70.69,206.37 70.81,206.42 70.93,206.46 71.05,206.51 71.17,206.55 71.29,206.60 71.41,206.64 71.53,206.69 71.65,206.73 71.77,206.78 71.89,206.82 72.01,206.87 72.13,206.91 72.25,206.96 72.37,207.00 72.49,207.05 72.61,207.09 72.73,207.14 72.85,207.18 72.97,207.22 73.09,207.27 73.21,207.31 73.33,207.36 73.44,207.40 74.40,207.76 75.36,208.11 76.32,208.46 77.28,208.81 78.23,209.16 79.19,209.50 80.15,209.84 81.11,210.18 82.07,210.52 83.02,210.85 83.98,211.18 84.94,211.51 85.90,211.83 86.85,212.15 87.81,212.47 88.77,212.79 89.73,213.11 90.69,213.42 91.64,213.73 92.60,214.03 93.56,214.34 94.52,214.64 95.47,214.94 96.43,215.24 97.39,215.53 98.35,215.82 99.31,216.11 100.26,216.40 101.22,216.69 102.18,216.97 103.14,217.25 104.09,217.53 105.05,217.81 106.01,218.08 106.97,218.35 107.93,218.62 108.88,218.89 109.84,219.15 110.80,219.42 111.76,219.68 112.71,219.94 113.67,220.19 114.63,220.45 115.59,220.70 116.55,220.95 117.50,221.20 118.46,221.44 119.42,221.69 120.38,221.93 121.33,222.17 122.29,222.41 123.25,222.64 124.21,222.88 125.17,223.11 126.12,223.34 127.08,223.57 128.04,223.80 129.00,224.02 129.96,224.25 130.91,224.47 131.87,224.69 132.83,224.91 133.79,225.12 134.74,225.34 135.70,225.55 136.66,225.76 137.62,225.97 138.58,226.18 139.53,226.38 140.49,226.58 141.45,226.79 142.41,226.99 143.36,227.19 144.32,227.38 145.28,227.58 146.24,227.77 147.20,227.97 148.15,228.16 149.11,228.35 150.07,228.54 151.03,228.72 151.98,228.91 152.94,229.09 153.90,229.27 154.86,229.45 155.82,229.63 156.77,229.81 157.73,229.99 158.69,230.16 159.65,230.33 160.60,230.50 161.56,230.68 162.52,230.84 163.48,231.01 164.44,231.18 165.39,231.34 166.35,231.51 167.31,231.67 168.27,231.83 169.22,231.99 170.18,232.15 171.14,232.30 172.10,232.46 173.06,232.61 174.01,232.77 174.97,232.92 175.93,233.07 176.89,233.22 177.85,233.37 178.80,233.52 179.76,233.66 180.72,233.81 181.68,233.95 182.63,234.09 183.59,234.23 184.55,234.37 185.51,234.51 186.47,234.65 187.42,234.79 188.38,234.92 189.34,235.06 190.30,235.19 191.25,235.32 192.21,235.45 193.17,235.58 194.13,235.71 195.09,235.84 196.04,235.97 197.00,236.09 197.96,236.22 198.92,236.34 199.87,236.46 200.83,236.59 201.79,236.71 202.75,236.83 203.71,236.95 204.66,237.06 205.62,237.18 206.58,237.30 207.54,237.41 208.49,237.53 209.45,237.64 210.41,237.75 211.37,237.86 212.33,237.97 213.28,238.08 214.24,238.19 215.20,238.30 216.16,238.41 217.12,238.51 218.07,238.62 219.03,238.72 219.99,238.82 220.95,238.93 221.90,239.03 222.86,239.13 223.82,239.23 224.78,239.33 225.74,239.43 226.69,239.53 227.65,239.62 228.61,239.72 229.57,239.81 230.52,239.91 231.48,240.00 232.44,240.10 233.40,240.19 234.36,240.28 235.31,240.37 236.27,240.46 237.23,240.55 238.19,240.64 239.14,240.73 240.10,240.81 241.06,240.90 242.02,240.99 242.98,241.07 243.93,241.16 244.89,241.24 245.85,241.32 246.81,241.40 247.76,241.49 248.72,241.57 249.68,241.65 250.64,241.73 251.60,241.81 252.55,241.88 253.51,241.96 254.47,242.04 255.43,242.12 256.38,242.19 257.34,242.27 258.30,242.34 259.26,242.42 260.22,242.49 261.17,242.56 262.13,242.63 263.09,242.71 264.05,242.78 265.00,242.85 265.96,242.92 266.92,242.99 267.88,243.06 268.84,243.12 269.79,243.19 270.75,243.26 271.71,243.32 272.67,243.39 273.63,243.46 274.58,243.52 275.54,243.59 276.50,243.65 277.46,243.71 278.41,243.78 279.37,243.84 280.33,243.90 281.29,243.96 282.25,244.02 283.20,244.08 284.16,244.14 285.12,244.20 286.08,244.26 287.03,244.32 287.99,244.38 288.95,244.43 289.91,244.49 290.87,244.55 291.82,244.60 292.78,244.66 293.74,244.72 294.70,244.77 295.65,244.82 296.61,244.88 297.57,244.93 298.53,244.98 299.49,245.04 300.44,245.09 301.40,245.14 302.36,245.19 303.32,245.24 304.27,245.29 305.23,245.34 306.19,245.39 307.15,245.44 308.11,245.49 309.06,245.54 310.02,245.59 310.98,245.64 311.94,245.68 312.89,245.73 313.85,245.78 314.81,245.82 315.77,245.87 316.73,245.91 317.68,245.96 318.64,246.00 319.60,246.05 320.56,246.09 321.52,246.14 322.47,246.18 323.43,246.22 324.39,246.26 325.35,246.31 326.30,246.35 327.26,246.39 328.22,246.43 329.18,246.47 330.14,246.51 331.09,246.55 332.05,246.59 333.01,246.63 333.97,246.67 334.92,246.71 335.88,246.75 336.84,246.79 337.80,246.82 338.76,246.86 339.71,246.90 340.67,246.94 341.63,246.97 342.59,247.01 343.54,247.05 344.50,247.08 345.46,247.12 346.42,247.15 347.38,247.19 348.33,247.22 349.29,247.26 350.25,247.29 351.21,247.32 352.16,247.36 353.12,247.39 354.08,247.42 355.04,247.46 356.00,247.49 356.95,247.52 357.91,247.55 358.87,247.59 359.83,247.62 360.79,247.65 361.74,247.68 362.70,247.71 363.66,247.74 364.62,247.77 365.57,247.80 366.53,247.83 367.49,247.86 368.45,247.89 369.41,247.92 370.36,247.95 371.32,247.98 372.28,248.00 373.24,248.03 374.19,248.06 375.15,248.09 376.11,248.12 377.07,248.14 378.03,248.17 378.98,248.20 379.94,248.22 380.90,248.25 381.86,248.28 382.81,248.30 383.77,248.33 384.73,248.35 385.69,248.38 386.65,248.40 387.60,248.43 388.56,248.45 389.52,248.48 390.48,248.50 391.43,248.53 392.39,248.55 393.35,248.57 394.31,248.60 395.27,248.62 396.22,248.64 397.18,248.67 398.14,248.69 399.10,248.71 400.05,248.73 401.01,248.76 401.97,248.78 402.93,248.80 403.89,248.82 404.84,248.84 405.80,248.87 406.76,248.89 407.72,248.91 408.68,248.93 409.63,248.95 410.59,248.97 411.55,248.99 412.51,249.01 413.46,249.03 414.42,249.05 415.38,249.07 416.34,249.09 417.30,249.11 418.25,249.13 419.21,249.15 420.17,249.17 421.13,249.18 422.08,249.20 423.04,249.22 424.00,249.24 424.96,249.26 425.92,249.28 426.87,249.29 427.83,249.31 428.79,249.33 429.75,249.35 430.70,249.36 431.66,249.38 432.62,249.40 433.58,249.42 434.54,249.43 435.49,249.45 436.45,249.46 437.41,249.48 438.37,249.50 439.32,249.51 440.28,249.53 441.24,249.55 442.20,249.56 443.16,249.58 444.11,249.59 445.07,249.61 446.03,249.62 446.99,249.64 447.94,249.65 448.90,249.67 449.86,249.68 450.82,249.70 451.78,249.71 452.73,249.73 453.69,249.74 454.65,249.75 455.61,249.77 456.56,249.78 457.52,249.80 458.48,249.81 459.44,249.82 460.40,249.84 461.35,249.85 462.31,249.86 463.27,249.88 464.23,249.89 465.19,249.90 466.14,249.92 467.10,249.93 468.06,249.94 469.02,249.95 469.97,249.97 470.93,249.98 471.89,249.99 472.85,250.00 473.81,250.02 474.76,250.03 475.72,250.04 476.68,250.05 477.64,250.06 478.59,250.07 479.55,250.09 480.51,250.10 481.47,250.11 482.43,250.12 483.38,250.13 484.34,250.14 485.30,250.15 486.26,250.16 487.21,250.17 488.17,250.19 489.13,250.20 490.09,250.21 491.05,250.22 492.00,250.23 492.96,250.24 493.92,250.25 494.88,250.26 495.83,250.27 496.79,250.28 497.75,250.29 498.71,250.30 499.67,250.31 500.62,250.32 501.58,250.33 502.54,250.34 503.50,250.35 504.45,250.36 505.41,250.36 506.37,250.37 507.33,250.38 508.29,250.39 509.24,250.40 510.20,250.41 511.16,250.42 512.12,250.43 513.08,250.44 514.03,250.44 514.99,250.45 515.95,250.46 516.91,250.47 517.86,250.48 518.82,250.49 519.78,250.50 520.74,250.50 521.70,250.51 522.65,250.52 523.61,250.53 524.57,250.54 525.53,250.54 526.48,250.55 527.44,250.56 528.40,250.57" stroke="#302626" stroke-width="1.45"/><polyline points="49.50,251.30 49.62,251.30 49.74,251.30 49.86,251.30 49.98,251.30 50.10,251.30 50.22,251.30 50.34,251.30 50.46,251.30 50.58,251.30 50.70,251.30 50.82,251.30 50.94,251.29 51.06,251.29 51.18,251.27 51.30,251.25 51.42,251.22 51.54,251.18 51.66,251.10 51.77,251.00 51.89,250.85 52.01,250.63 52.13,250.34 52.25,249.93 52.37,249.38 52.49,248.65 52.61,247.70 52.73,246.47 52.85,244.91 52.97,242.95 53.09,240.53 53.21,237.57 53.33,234.03 53.45,229.84 53.57,224.98 53.69,219.44 53.81,213.24 53.93,206.44 54.05,199.13 54.17,191.43 54.29,183.49 54.41,175.45 54.53,167.47 54.65,159.70 54.77,152.25 54.89,145.24 55.01,138.71 55.13,132.72 55.25,127.29 55.37,122.40 55.49,118.05 55.61,114.19 55.73,110.80 55.85,107.84 55.97,105.25 56.08,103.01 56.20,101.07 56.32,99.40 56.44,97.97 56.56,96.74 56.68,95.68 56.80,94.79 56.92,94.02 57.04,93.38 57.16,92.84 57.28,92.38 57.40,92.00 57.52,91.69 57.64,91.44 57.76,91.24 57.88,91.08 58.00,90.96 58.12,90.88 58.24,90.82 58.36,90.79 58.48,90.78 58.60,90.79 58.72,90.81 58.84,90.86 58.96,90.91 59.08,90.98 59.20,91.06 59.32,91.14 59.44,91.24 59.56,91.34 59.68,91.45 59.80,91.56 59.92,91.68 60.04,91.80 60.16,91.93 60.28,92.06 60.39,92.19 60.51,92.32 60.63,92.46 60.75,92.60 60.87,92.75 60.99,92.89 61.11,93.03 61.23,93.18 61.35,93.33 61.47,93.48 61.59,93.63 61.71,93.78 61.83,93.93 61.95,94.08 62.07,94.24 62.19,94.39 62.31,94.54 62.43,94.70 62.55,94.85 62.67,95.01 62.79,95.16 62.91,95.32 63.03,95.47 63.15,95.63 63.27,95.79 63.39,95.94 63.51,96.10 63.63,96.26 63.75,96.41 63.87,96.57 63.99,96.72 64.11,96.88 64.23,97.04 64.35,97.19 64.47,97.35 64.59,97.51 64.71,97.66 64.82,97.82 64.94,97.97 65.06,98.13 65.18,98.29 65.30,98.44 65.42,98.60 65.54,98.75 65.66,98.91 65.78,99.06 65.90,99.22 66.02,99.38 66.14,99.53 66.26,99.69 66.38,99.84 66.50,99.99 66.62,100.15 66.74,100.30 66.86,100.46 66.98,100.61 67.10,100.77 67.22,100.92 67.34,101.07 67.46,101.23 67.58,101.38 67.70,101.54 67.82,101.69 67.94,101.84 68.06,101.99 68.18,102.15 68.30,102.30 68.42,102.45 68.54,102.60 68.66,102.76 68.78,102.91 68.90,103.06 69.02,103.21 69.13,103.36 69.25,103.52 69.37,103.67 69.49,103.82 69.61,103.97 69.73,104.12 69.85,104.27 69.97,104.42 70.09,104.57 70.21,104.72 70.33,104.87 70.45,105.02 70.57,105.17 70.69,105.32 70.81,105.47 70.93,105.62 71.05,105.77 71.17,105.92 71.29,106.07 71.41,106.22 71.53,106.37 71.65,106.52 71.77,106.66 71.89,106.81 72.01,106.96 72.13,107.11 72.25,107.26 72.37,107.40 72.49,107.55 72.61,107.70 72.73,107.85 72.85,107.99 72.97,108.14 73.09,108.29 73.21,108.43 73.33,108.58 73.44,108.73 74.40,109.89 75.36,111.05 76.32,112.19 77.28,113.33 78.23,114.46 79.19,115.57 80.15,116.68 81.11,117.78 82.07,118.88 83.02,119.96 83.98,121.03 84.94,122.10 85.90,123.15 86.85,124.20 87.81,125.24 88.77,126.27 89.73,127.29 90.69,128.30 91.64,129.31 92.60,130.31 93.56,131.30 94.52,132.28 95.47,133.25 96.43,134.22 97.39,135.17 98.35,136.12 99.31,137.06 100.26,138.00 101.22,138.92 102.18,139.84 103.14,140.75 104.09,141.66 105.05,142.56 106.01,143.44 106.97,144.33 107.93,145.20 108.88,146.07 109.84,146.93 110.80,147.78 111.76,148.63 112.71,149.47 113.67,150.30 114.63,151.13 115.59,151.95 116.55,152.76 117.50,153.57 118.46,154.37 119.42,155.16 120.38,155.95 121.33,156.73 122.29,157.50 123.25,158.27 124.21,159.03 125.17,159.78 126.12,160.53 127.08,161.27 128.04,162.01 129.00,162.74 129.96,163.47 130.91,164.19 131.87,164.90 132.83,165.61 133.79,166.31 134.74,167.00 135.70,167.69 136.66,168.38 137.62,169.06 138.58,169.73 139.53,170.40 140.49,171.06 141.45,171.72 142.41,172.37 143.36,173.01 144.32,173.65 145.28,174.29 146.24,174.92 147.20,175.55 148.15,176.17 149.11,176.78 150.07,177.39 151.03,178.00 151.98,178.60 152.94,179.19 153.90,179.78 154.86,180.37 155.82,180.95 156.77,181.53 157.73,182.10 158.69,182.66 159.65,183.23 160.60,183.79 161.56,184.34 162.52,184.89 163.48,185.43 164.44,185.97 165.39,186.51 166.35,187.04 167.31,187.56 168.27,188.09 169.22,188.60 170.18,189.12 171.14,189.63 172.10,190.13 173.06,190.64 174.01,191.13 174.97,191.63 175.93,192.12 176.89,192.60 177.85,193.08 178.80,193.56 179.76,194.03 180.72,194.50 181.68,194.97 182.63,195.43 183.59,195.89 184.55,196.34 185.51,196.79 186.47,197.24 187.42,197.69 188.38,198.13 189.34,198.56 190.30,198.99 191.25,199.42 192.21,199.85 193.17,200.27 194.13,200.69 195.09,201.11 196.04,201.52 197.00,201.93 197.96,202.33 198.92,202.73 199.87,203.13 200.83,203.53 201.79,203.92 202.75,204.31 203.71,204.70 204.66,205.08 205.62,205.46 206.58,205.84 207.54,206.21 208.49,206.58 209.45,206.95 210.41,207.31 211.37,207.67 212.33,208.03 213.28,208.39 214.24,208.74 215.20,209.09 216.16,209.44 217.12,209.78 218.07,210.12 219.03,210.46 219.99,210.80 220.95,211.13 221.90,211.46 222.86,211.79 223.82,212.11 224.78,212.44 225.74,212.76 226.69,213.07 227.65,213.39 228.61,213.70 229.57,214.01 230.52,214.32 231.48,214.62 232.44,214.92 233.40,215.22 234.36,215.52 235.31,215.82 236.27,216.11 237.23,216.40 238.19,216.69 239.14,216.97 240.10,217.25 241.06,217.53 242.02,217.81 242.98,218.09 243.93,218.36 244.89,218.64 245.85,218.90 246.81,219.17 247.76,219.44 248.72,219.70 249.68,219.96 250.64,220.22 251.60,220.48 252.55,220.73 253.51,220.98 254.47,221.23 255.43,221.48 256.38,221.73 257.34,221.97 258.30,222.21 259.26,222.45 260.22,222.69 261.17,222.93 262.13,223.16 263.09,223.40 264.05,223.63 265.00,223.86 265.96,224.08 266.92,224.31 267.88,224.53 268.84,224.75 269.79,224.97 270.75,225.19 271.71,225.41 272.67,225.62 273.63,225.83 274.58,226.05 275.54,226.25 276.50,226.46 277.46,226.67 278.41,226.87 279.37,227.07 280.33,227.28 281.29,227.47 282.25,227.67 283.20,227.87 284.16,228.06 285.12,228.26 286.08,228.45 287.03,228.64 287.99,228.82 288.95,229.01 289.91,229.20 290.87,229.38 291.82,229.56 292.78,229.74 293.74,229.92 294.70,230.10 295.65,230.28 296.61,230.45 297.57,230.62 298.53,230.80 299.49,230.97 300.44,231.14 301.40,231.30 302.36,231.47 303.32,231.64 304.27,231.80 305.23,231.96 306.19,232.12 307.15,232.28 308.11,232.44 309.06,232.60 310.02,232.76 310.98,232.91 311.94,233.06 312.89,233.22 313.85,233.37 314.81,233.52 315.77,233.67 316.73,233.81 317.68,233.96 318.64,234.10 319.60,234.25 320.56,234.39 321.52,234.53 322.47,234.67 323.43,234.81 324.39,234.95 325.35,235.09 326.30,235.22 327.26,235.36 328.22,235.49 329.18,235.62 330.14,235.76 331.09,235.89 332.05,236.01 333.01,236.14 333.97,236.27 334.92,236.40 335.88,236.52 336.84,236.65 337.80,236.77 338.76,236.89 339.71,237.01 340.67,237.13 341.63,237.25 342.59,237.37 343.54,237.49 344.50,237.60 345.46,237.72 346.42,237.83 347.38,237.95 348.33,238.06 349.29,238.17 350.25,238.28 351.21,238.39 352.16,238.50 353.12,238.61 354.08,238.72 355.04,238.83 356.00,238.93 356.95,239.04 357.91,239.14 358.87,239.24 359.83,239.34 360.79,239.45 361.74,239.55 362.70,239.65 363.66,239.75 364.62,239.84 365.57,239.94 366.53,240.04 367.49,240.13 368.45,240.23 369.41,240.32 370.36,240.42 371.32,240.51 372.28,240.60 373.24,240.69 374.19,240.78 375.15,240.87 376.11,240.96 377.07,241.05 378.03,241.14 378.98,241.22 379.94,241.31 380.90,241.40 381.86,241.48 382.81,241.57 383.77,241.65 384.73,241.73 385.69,241.81 386.65,241.90 387.60,241.98 388.56,242.06 389.52,242.14 390.48,242.22 391.43,242.29 392.39,242.37 393.35,242.45 394.31,242.52 395.27,242.60 396.22,242.68 397.18,242.75 398.14,242.82 399.10,242.90 400.05,242.97 401.01,243.04 401.97,243.11 402.93,243.18 403.89,243.26 404.84,243.33 405.80,243.39 406.76,243.46 407.72,243.53 408.68,243.60 409.63,243.67 410.59,243.73 411.55,243.80 412.51,243.86 413.46,243.93 414.42,243.99 415.38,244.06 416.34,244.12 417.30,244.18 418.25,244.25 419.21,244.31 420.17,244.37 421.13,244.43 422.08,244.49 423.04,244.55 424.00,244.61 424.96,244.67 425.92,244.73 426.87,244.79 427.83,244.84 428.79,244.90 429.75,244.96 430.70,245.01 431.66,245.07 432.62,245.13 433.58,245.18 434.54,245.23 435.49,245.29 436.45,245.34 437.41,245.40 438.37,245.45 439.32,245.50 440.28,245.55 441.24,245.60 442.20,245.65 443.16,245.71 444.11,245.76 445.07,245.81 446.03,245.85 446.99,245.90 447.94,245.95 448.90,246.00 449.86,246.05 450.82,246.10 451.78,246.14 452.73,246.19 453.69,246.24 454.65,246.28 455.61,246.33 456.56,246.37 457.52,246.42 458.48,246.46 459.44,246.51 460.40,246.55 461.35,246.59 462.31,246.64 463.27,246.68 464.23,246.72 465.19,246.76 466.14,246.81 467.10,246.85 468.06,246.89 469.02,246.93 469.97,246.97 470.93,247.01 471.89,247.05 472.85,247.09 473.81,247.13 474.76,247.17 475.72,247.21 476.68,247.25 477.64,247.28 478.59,247.32 479.55,247.36 480.51,247.40 481.47,247.43 482.43,247.47 483.38,247.50 484.34,247.54 485.30,247.58 486.26,247.61 487.21,247.65 488.17,247.68 489.13,247.72 490.09,247.75 491.05,247.78 492.00,247.82 492.96,247.85 493.92,247.88 494.88,247.92 495.83,247.95 496.79,247.98 497.75,248.01 498.71,248.05 499.67,248.08 500.62,248.11 501.58,248.14 502.54,248.17 503.50,248.20 504.45,248.23 505.41,248.26 506.37,248.29 507.33,248.32 508.29,248.35 509.24,248.38 510.20,248.41 511.16,248.44 512.12,248.47 513.08,248.50 514.03,248.52 514.99,248.55 515.95,248.58 516.91,248.61 517.86,248.63 518.82,248.66 519.78,248.69 520.74,248.71 521.70,248.74 522.65,248.77 523.61,248.79 524.57,248.82 525.53,248.84 526.48,248.87 527.44,248.89 528.40,248.92" stroke="#ff22ff"/></g>
<g stroke="#a4a4a4" stroke-width="1"><line x1="123.30" y1="39.70" x2="73.68" y2="70.33"/><line x1="125.20" y1="62.80" x2="76.38" y2="93.03"/><line x1="132.50" y1="86.30" x2="83.67" y2="116.82"/><line x1="150.70" y1="111.30" x2="102.78" y2="141.22"/><line x1="154.00" y1="138.50" x2="62.14" y2="198.96"/><line x1="168.20" y1="161.00" x2="95.00" y2="211.61"/></g>
<g fill="#111"><polygon points="71.30,71.80 73.55,67.83 74.02,70.12 75.86,71.57"/><polygon points="74.00,94.50 76.24,90.52 76.72,92.82 78.56,94.26"/><polygon points="81.30,118.30 83.53,114.31 84.01,116.60 85.86,118.05"/><polygon points="100.40,142.70 102.63,138.72 103.11,141.01 104.96,142.45"/><polygon points="59.80,200.50 61.93,196.46 62.47,198.74 64.35,200.14"/><polygon points="92.70,213.20 94.74,209.12 95.33,211.38 97.24,212.73"/></g>
<g font-size="15"><text transform="translate(125.40,35.90) scale(1.066,1)">Tower 46 (T46)</text><text transform="translate(128.00,58.90) scale(1.066,1)">Tower 41 (T41)</text><text transform="translate(135.50,82.60) scale(1.066,1)">Tower 49 (T49)</text><text transform="translate(153.00,107.90) scale(1.066,1)">Tower 44 (T44)</text><text transform="translate(156.10,134.70) scale(1.066,1)">Tower 40 (T40)</text><text transform="translate(171.10,157.70) scale(1.066,1)">Tower 45 (T45)</text></g>
<g font-size="15" text-anchor="middle"><text x="49.90" y="269.3" textLength="8" lengthAdjust="spacingAndGlyphs">0</text><text x="97.79" y="269.3" textLength="24" lengthAdjust="spacingAndGlyphs">200</text><text x="145.68" y="269.3" textLength="24" lengthAdjust="spacingAndGlyphs">400</text><text x="193.57" y="269.3" textLength="24" lengthAdjust="spacingAndGlyphs">600</text><text x="241.46" y="269.3" textLength="24" lengthAdjust="spacingAndGlyphs">800</text><text x="289.35" y="269.3" textLength="32" lengthAdjust="spacingAndGlyphs">1000</text><text x="337.24" y="269.3" textLength="32" lengthAdjust="spacingAndGlyphs">1200</text><text x="385.13" y="269.3" textLength="32" lengthAdjust="spacingAndGlyphs">1400</text><text x="433.02" y="269.3" textLength="32" lengthAdjust="spacingAndGlyphs">1600</text><text x="480.91" y="269.3" textLength="32" lengthAdjust="spacingAndGlyphs">1800</text><text x="528.80" y="269.3" textLength="32" lengthAdjust="spacingAndGlyphs">2000</text></g>
<g font-size="15" text-anchor="end"><text x="46.0" y="256.40" textLength="8" lengthAdjust="spacingAndGlyphs">0</text><text x="46.0" y="226.11" textLength="24" lengthAdjust="spacingAndGlyphs">100</text><text x="46.0" y="195.83" textLength="24" lengthAdjust="spacingAndGlyphs">200</text><text x="46.0" y="165.54" textLength="24" lengthAdjust="spacingAndGlyphs">300</text><text x="46.0" y="135.25" textLength="24" lengthAdjust="spacingAndGlyphs">400</text><text x="46.0" y="104.96" textLength="24" lengthAdjust="spacingAndGlyphs">500</text><text x="46.0" y="74.68" textLength="24" lengthAdjust="spacingAndGlyphs">600</text><text x="46.0" y="44.39" textLength="24" lengthAdjust="spacingAndGlyphs">700</text><text x="46.0" y="14.10" textLength="24" lengthAdjust="spacingAndGlyphs">800</text></g>
<text x="287.6" y="282.5" font-size="16.5" text-anchor="middle" textLength="149.3" lengthAdjust="spacingAndGlyphs">Time (microseconds)</text>
<text transform="translate(16.5,129.3) rotate(-90) scale(1,1.07)" font-size="16.5" text-anchor="middle">GPR (kV)</text>
</svg>
</body></html>
